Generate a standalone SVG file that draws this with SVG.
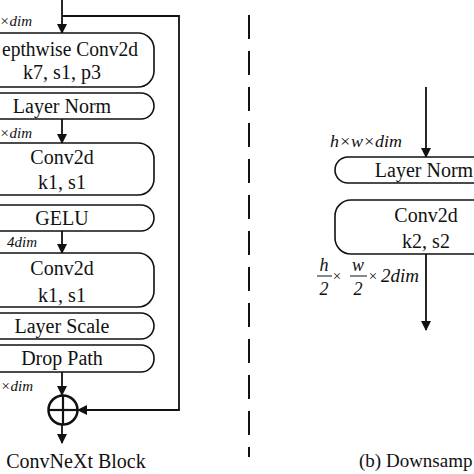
<svg xmlns="http://www.w3.org/2000/svg" width="474" height="474" viewBox="0 0 474 474">
<style>
.box{fill:#fff;stroke:#111;stroke-width:1.6}
.ln{fill:none;stroke:#111;stroke-width:1.8}
</style>
<defs>
<marker id="ah" markerWidth="10" markerHeight="12" refX="9" refY="5" orient="auto" markerUnits="userSpaceOnUse" viewBox="0 0 10 10">
<path d="M0,0 L10,5 L0,10 Z" fill="#111"/>
</marker>
</defs>
<rect width="474" height="474" fill="#fff"/>
<g id="connectors">
<line class="ln" x1="62" y1="0" x2="62" y2="33" marker-end="url(#ah)"/>
<polyline class="ln" points="62,16 179,16 179,410 78,410" marker-end="url(#ah)"/>
<line class="ln" x1="62" y1="119" x2="62" y2="143" marker-end="url(#ah)"/>
<line class="ln" x1="62" y1="231" x2="62" y2="253" marker-end="url(#ah)"/>
<line class="ln" x1="62" y1="372" x2="62" y2="395" marker-end="url(#ah)"/>
<line class="ln" x1="62" y1="424" x2="62" y2="443" marker-end="url(#ah)"/>
<line class="ln" x1="426" y1="87" x2="426" y2="157" marker-end="url(#ah)"/>
<line class="ln" x1="426" y1="254" x2="426" y2="330" marker-end="url(#ah)"/>
<line x1="249" y1="15" x2="249" y2="457" stroke="#111" stroke-width="2" stroke-dasharray="24 12"/>
</g>
<g id="depthwise">
<rect class="box" x="-31" y="33" width="185" height="54" rx="16"/>
<text x="2" y="56" font-family="Liberation Serif" style="font-family:'Liberation Serif',serif;font-size:20px" fill="#111" textLength="136" lengthAdjust="spacingAndGlyphs">epthwise Conv2d</text>
<text x="62" y="79" font-family="Liberation Serif" style="font-family:'Liberation Serif',serif;font-size:20px" fill="#111" text-anchor="middle">k7, s1, p3</text>
</g>
<g id="layernorm1">
<rect class="box" x="-31" y="93" width="185" height="26" rx="13"/>
<text x="62" y="113" font-family="Liberation Serif" style="font-family:'Liberation Serif',serif;font-size:20px" fill="#111" text-anchor="middle">Layer Norm</text>
</g>
<g id="conv1">
<rect class="box" x="-31" y="143" width="185" height="52" rx="16"/>
<text x="62" y="164" font-family="Liberation Serif" style="font-family:'Liberation Serif',serif;font-size:20px" fill="#111" text-anchor="middle">Conv2d</text>
<text x="62" y="189" font-family="Liberation Serif" style="font-family:'Liberation Serif',serif;font-size:20px" fill="#111" text-anchor="middle">k1, s1</text>
</g>
<g id="gelu">
<rect class="box" x="-31" y="205" width="185" height="26" rx="13"/>
<text x="62" y="225" font-family="Liberation Serif" style="font-family:'Liberation Serif',serif;font-size:20px" fill="#111" text-anchor="middle">GELU</text>
</g>
<g id="conv2">
<rect class="box" x="-31" y="253" width="185" height="54" rx="16"/>
<text x="62" y="275" font-family="Liberation Serif" style="font-family:'Liberation Serif',serif;font-size:20px" fill="#111" text-anchor="middle">Conv2d</text>
<text x="62" y="302" font-family="Liberation Serif" style="font-family:'Liberation Serif',serif;font-size:20px" fill="#111" text-anchor="middle">k1, s1</text>
</g>
<g id="layerscale">
<rect class="box" x="-31" y="313" width="185" height="26" rx="13"/>
<text x="62" y="333" font-family="Liberation Serif" style="font-family:'Liberation Serif',serif;font-size:20px" fill="#111" text-anchor="middle">Layer Scale</text>
</g>
<g id="droppath">
<rect class="box" x="-31" y="345" width="185" height="27" rx="13"/>
<text x="62" y="365" font-family="Liberation Serif" style="font-family:'Liberation Serif',serif;font-size:20px" fill="#111" text-anchor="middle">Drop Path</text>
</g>
<g id="add">
<circle cx="63" cy="410" r="14.5" fill="#fff" stroke="#111" stroke-width="2.5"/>
<line x1="48.5" y1="410" x2="77.5" y2="410" stroke="#111" stroke-width="2.2"/>
<line x1="63" y1="395.5" x2="63" y2="424.5" stroke="#111" stroke-width="2.2"/>
</g>
<g id="labels">
<text x="32" y="26" font-family="Liberation Serif" style="font-family:'Liberation Serif',serif;font-size:15px;font-style:italic" fill="#111" text-anchor="end">×dim</text>
<text x="32" y="138" font-family="Liberation Serif" style="font-family:'Liberation Serif',serif;font-size:15px;font-style:italic" fill="#111" text-anchor="end">×dim</text>
<text x="37" y="247" font-family="Liberation Serif" style="font-family:'Liberation Serif',serif;font-size:15px;font-style:italic" fill="#111" text-anchor="end">4dim</text>
<text x="33" y="391" font-family="Liberation Serif" style="font-family:'Liberation Serif',serif;font-size:15px;font-style:italic" fill="#111" text-anchor="end">×dim</text>
<text x="76" y="468" font-family="Liberation Serif" style="font-family:'Liberation Serif',serif;font-size:20px" fill="#111" text-anchor="middle">ConvNeXt Block</text>
<text x="330" y="147" font-family="Liberation Serif" style="font-family:'Liberation Serif',serif;font-size:16px;font-style:italic" fill="#111" textLength="72" lengthAdjust="spacingAndGlyphs">h×w×dim</text>
<text x="324" y="271" font-family="Liberation Serif" style="font-family:'Liberation Serif',serif;font-size:18px;font-style:italic" fill="#111" text-anchor="middle">h</text>
<line x1="317" y1="276" x2="332" y2="276" stroke="#111" stroke-width="1"/>
<text x="324" y="295" font-family="Liberation Serif" style="font-family:'Liberation Serif',serif;font-size:18px;font-style:italic" fill="#111" text-anchor="middle">2</text>
<text x="337" y="281" font-family="Liberation Serif" style="font-family:'Liberation Serif',serif;font-size:15px" fill="#111" text-anchor="middle">×</text>
<text x="358" y="271" font-family="Liberation Serif" style="font-family:'Liberation Serif',serif;font-size:18px;font-style:italic" fill="#111" text-anchor="middle">w</text>
<line x1="350" y1="276" x2="367" y2="276" stroke="#111" stroke-width="1"/>
<text x="358" y="295" font-family="Liberation Serif" style="font-family:'Liberation Serif',serif;font-size:18px;font-style:italic" fill="#111" text-anchor="middle">2</text>
<text x="373" y="281" font-family="Liberation Serif" style="font-family:'Liberation Serif',serif;font-size:15px" fill="#111" text-anchor="middle">×</text>
<text x="381" y="282" font-family="Liberation Serif" style="font-family:'Liberation Serif',serif;font-size:18px;font-style:italic" fill="#111" textLength="38" lengthAdjust="spacingAndGlyphs">2dim</text>
<text x="359" y="467" font-family="Liberation Serif" style="font-family:'Liberation Serif',serif;font-size:19px" fill="#111">(b) Downsamp</text>
</g>
<g id="ds-layernorm">
<rect class="box" x="335" y="157" width="182" height="26" rx="13"/>
<text x="424" y="177" font-family="Liberation Serif" style="font-family:'Liberation Serif',serif;font-size:20px" fill="#111" text-anchor="middle">Layer Norm</text>
</g>
<g id="ds-conv">
<rect class="box" x="335" y="200" width="182" height="54" rx="16"/>
<text x="426" y="222" font-family="Liberation Serif" style="font-family:'Liberation Serif',serif;font-size:20px" fill="#111" text-anchor="middle">Conv2d</text>
<text x="426" y="248" font-family="Liberation Serif" style="font-family:'Liberation Serif',serif;font-size:20px" fill="#111" text-anchor="middle">k2, s2</text>
</g>
</svg>
